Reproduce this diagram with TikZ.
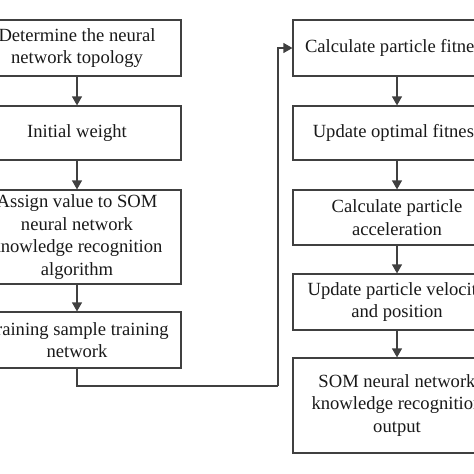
\documentclass[tikz,border=0pt]{standalone}
\usepackage{fontspec}
\setmainfont{Liberation Serif}
\usetikzlibrary{arrows.meta}
\begin{document}
\begin{tikzpicture}[
    x=1pt, y=-1pt,
    every node/.style={rectangle, draw=black!75, line width=1.2pt, inner sep=0pt, align=center,
        minimum width=208pt, font=\fontsize{18.6}{22.5}\selectfont, text=black!90},
    edge/.style={draw=black!75, line width=1.2pt, -{Triangle[width=10pt,length=9pt]}},
    link/.style={draw=black!75, line width=1.2pt}
]
\useasboundingbox (0,0) rectangle (474,474);
\clip (0,0) rectangle (474,474);

% Left column
\node[minimum height=56pt] (l1) at (77,48) {Determine the neural\\network topology};
\node[minimum height=54pt] (l2) at (77,133) {Initial weight};
\node[minimum height=94pt] (l3) at (77,237) {Assign value to SOM\\neural network\\knowledge recognition\\algorithm};
\node[minimum height=56pt] (l4) at (77,340) {Training sample training\\network};

% Right column
\node[minimum height=56pt] (r1) at (397,48) {Calculate particle fitness};
\node[minimum height=54pt] (r2) at (397,133) {Update optimal fitness};
\node[minimum height=55pt] (r3) at (397,217.5) {Calculate particle\\acceleration};
\node[minimum height=56pt] (r4) at (397,302) {Update particle velocity\\and position};
\node[minimum height=95pt] (r5) at (397,405.5) {SOM neural network\\knowledge recognition\\output};

% Edges in the left column
\draw[edge] (l1) -- (l2);
\draw[edge] (l2) -- (l3);
\draw[edge] (l3) -- (l4);

% Edges in the right column
\draw[edge] (r1) -- (r2);
\draw[edge] (r2) -- (r3);
\draw[edge] (r3) -- (r4);
\draw[edge] (r4) -- (r5);

% Link between the columns
\coordinate (turn) at (278,386);
\draw[link] (l4.south) |- (turn);
\draw[edge] (turn) |- (r1.west);
\end{tikzpicture}
\end{document}
